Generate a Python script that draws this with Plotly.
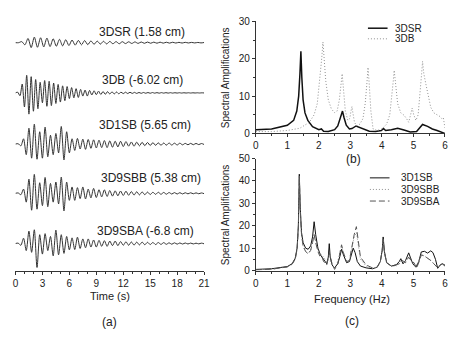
import numpy as np
import plotly.graph_objects as go

W, H = 474, 348
FONT = "Liberation Sans, Arial, sans-serif"

# ---------------- data: (a) displacement time histories (cm), successive half-cycle extremes
wave_names = ["3DSR (1.58 cm)", "3DB (-6.02 cm)", "3D1SB (5.65 cm)", "3D9SBB (5.38 cm)", "3D9SBA (-6.8 cm)"]
wave_dt = [0.35, 0.25, 0.3, 0.3, 0.3]
w_3dsr = [0, 0, 0.3, -0.6, 1.2, -1.4, 1.58, -1.3, 1.4, -1.2, 1.3, -1.1, 1.1, -1.0, 0.95, -0.9, 0.85, -0.8, 0.75, -0.7,
          0.65, -0.6, 0.6, -0.55, 0.5, -0.45, 0.45, -0.4, 0.4, -0.35, 0.35, -0.3, 0.3, -0.3, 0.28, -0.25, 0.25, -0.22,
          0.22, -0.2, 0.2, -0.18, 0.18, -0.16, 0.16, -0.15, 0.15, -0.13, 0.13, -0.12, 0.12, -0.1, 0.1, -0.1, 0.1,
          -0.08, 0.08, -0.07, 0.07, -0.06, 0.05]
w_3db = [0, 0.2, -0.8, 2.5, -4.0, 5.0, -6.02, 4.6, -5.2, 3.8, -4.5, 3.0, -2.8, 3.5, -3.8, 3.3, -3.6, 2.8, -3.0, 2.4,
         -2.6, 2.0, -2.2, 1.8, -1.6, 1.5, -1.4, 1.2, -1.3, 1.0, -0.9, 0.8, -0.9, 0.7, -0.6, 0.6, -0.5, 0.5, -0.45, 0.4,
         -0.4, 0.35, -0.3, 0.3, -0.3, 0.25, -0.25, 0.2, -0.2, 0.2, -0.18, 0.18, -0.15, 0.15, -0.15, 0.12, -0.12, 0.12,
         -0.1, 0.1, -0.1, 0.1, -0.08, 0.08, -0.08, 0.08, -0.07, 0.07, -0.06, 0.06, -0.06, 0.05, -0.05, 0.05, -0.05,
         0.04, -0.04, 0.04, -0.04, 0.03, -0.03, 0.03, -0.03, 0.02, -0.02]
w_3d1sb = [0, 0.1, -0.5, 1.5, -3.0, 4.5, -4.0, 5.65, -4.3, 3.5, -4.0, 4.8, -3.6, 2.5, -3.0, 3.0, -2.5, 5.0, -4.5, 3.5,
           -2.5, 1.5, -1.8, 1.6, -1.4, 1.4, -1.5, 1.3, -1.2, 1.2, -1.1, 1.1, -1.0, 1.0, -1.0, 0.9, -0.9, 0.8, -0.8,
           0.8, -0.7, 0.7, -0.6, 0.6, -0.6, 0.55, -0.5, 0.5, -0.45, 0.45, -0.4, 0.4, -0.35, 0.35, -0.35, 0.3, -0.3,
           0.3, -0.28, 0.25, -0.25, 0.25, -0.22, 0.2, -0.2, 0.2, -0.18, 0.18, -0.15, 0.15, -0.12]
w_3d9sbb = [0, 0.1, -0.4, 1.2, -2.5, 4.0, -4.8, 5.38, -4.5, 3.0, -3.5, 4.5, -3.8, 2.8, -2.5, 3.2, -3.0, 4.6, -5.0, 3.2,
            -2.0, 1.8, -2.0, 1.6, -1.5, 1.8, -1.6, 1.2, -1.3, 1.4, -1.2, 1.0, -1.0, 1.0, -0.9, 0.8, -0.8, 0.7, -0.7,
            0.65, -0.6, 0.6, -0.55, 0.5, -0.5, 0.45, -0.45, 0.4, -0.4, 0.35, -0.35, 0.3, -0.3, 0.3, -0.28, 0.25,
            -0.25, 0.22, -0.2, 0.2, -0.2, 0.18, -0.18, 0.16, -0.15, 0.15, -0.13, 0.12, -0.12, 0.1, -0.1]
w_3d9sba = [0, 0.1, -0.5, 1.5, -2.0, 3.5, -2.5, 3.9, -6.8, 2.5, -3.0, 2.8, -2.0, 2.0, -3.5, 3.8, -3.2, 2.5, -2.8, 2.0,
            -1.8, 1.6, -1.7, 1.8, -1.4, 1.3, -1.2, 1.3, -1.0, 1.0, -1.0, 0.9, -0.8, 0.8, -0.8, 0.7, -0.6, 0.7, -0.6,
            0.55, -0.5, 0.5, -0.5, 0.45, -0.45, 0.4, -0.4, 0.4, -0.35, 0.35, -0.3, 0.3, -0.3, 0.28, -0.25, 0.25,
            -0.22, 0.2, -0.2, 0.2, -0.18, 0.16, -0.15, 0.15, -0.13, 0.12, -0.12, 0.1, -0.1, 0.1, -0.08]
waves = [w_3dsr, w_3db, w_3d1sb, w_3d9sbb, w_3d9sba]

# ---------------- data: (b) spectral amplifications
f_3dsr = [0, 0.5, 1.0, 1.2, 1.3, 1.36, 1.4, 1.43, 1.46, 1.5, 1.56, 1.65, 1.8, 2.0, 2.08, 2.15, 2.3, 2.5, 2.6, 2.67,
          2.72, 2.75, 2.8, 2.87, 2.97, 3.05, 3.18, 3.3, 3.45, 3.6, 3.8, 3.98, 4.05, 4.12, 4.3, 4.5, 4.7, 4.9, 5.1, 5.2,
          5.29, 5.45, 5.6, 5.75, 5.9, 6.0]
a_3dsr = [1.0, 1.2, 2.2, 3.5, 6, 10, 16, 22, 15, 9, 5.5, 3.5, 1.8, 1.0, 1.2, 0.6, 0.5, 1.0, 2.0, 4, 5.5, 6.0, 4.2,
          2.2, 1.2, 1.3, 2.0, 1.6, 1.0, 0.6, 0.5, 0.8, 1.3, 0.8, 1.0, 1.4, 0.9, 0.4, 0.5, 1.5, 2.4, 1.9, 1.2, 0.8,
          0.4, 0.0]
f_3db = [0, 0.5, 1.0, 1.4, 1.7, 1.85, 1.95, 2.03, 2.09, 2.13, 2.17, 2.22, 2.3, 2.4, 2.5, 2.58, 2.65, 2.7, 2.74, 2.78,
         2.84, 2.92, 2.98, 3.02, 3.05, 3.08, 3.13, 3.2, 3.3, 3.4, 3.47, 3.52, 3.56, 3.6, 3.65, 3.72, 3.85, 4.0, 4.15,
         4.25, 4.32, 4.36, 4.39, 4.43, 4.5, 4.6, 4.7, 4.78, 4.85, 4.91, 4.96, 5.01, 5.08, 5.15, 5.22, 5.26, 5.29, 5.33,
         5.4, 5.47, 5.55, 5.65, 5.75, 5.85, 5.9, 5.95, 6.0]
a_3db = [0.5, 0.5, 0.8, 1.4, 3, 5, 8, 14, 20, 24.5, 20, 14, 9, 6.5, 5.6, 6, 9, 13, 16, 12, 6, 3.5, 4, 6, 7.2, 5.5, 3,
         2, 2.5, 4, 8, 13, 17.7, 13, 6, 1.2, 0.8, 1.2, 2.5, 5, 10, 14, 16.9, 13, 8, 5.5, 4.9, 4, 3, 5, 6.8, 5, 3.5, 5,
         11, 16, 19.3, 16, 13, 10, 7, 5.5, 5, 4.5, 4, 4.2, 1.5]

# ---------------- data: (c) spectral amplifications
f_3d1sb = [0, 0.5, 1.0, 1.15, 1.25, 1.31, 1.35, 1.38, 1.41, 1.45, 1.5, 1.58, 1.66, 1.74, 1.8, 1.85, 1.9, 1.97, 2.05,
           2.15, 2.25, 2.3, 2.33, 2.36, 2.42, 2.5, 2.6, 2.67, 2.72, 2.78, 2.88, 2.97, 3.04, 3.09, 3.15, 3.22, 3.32, 3.5,
           3.7, 3.85, 3.95, 4.01, 4.04, 4.08, 4.15, 4.3, 4.45, 4.55, 4.6, 4.67, 4.75, 4.81, 4.85, 4.9, 4.98, 5.08,
           5.17, 5.25, 5.35, 5.45, 5.55, 5.62, 5.7, 5.77, 5.85, 5.92, 6.0]
a_3d1sb = [0.5, 0.8, 1.8, 3.0, 5.5, 10, 20, 43, 28, 17, 12.5, 10, 9.5, 11, 15, 21.8, 16, 10, 7, 5, 3, 6, 12, 6, 2.5,
           1.2, 3, 6.5, 9.5, 7, 3.5, 4, 7.5, 10, 8, 4, 2, 1.2, 0.8, 1.5, 4, 9, 15, 8.5, 3.5, 2, 2.5, 4, 5.3, 3, 4.5, 7,
           7.9, 6, 3, 1.5, 4, 8.3, 8.6, 7.8, 8.8, 8, 5, 1, 2.5, 3, 2]
f_3d9sbb = [0, 0.5, 1.0, 1.15, 1.25, 1.31, 1.35, 1.38, 1.41, 1.45, 1.5, 1.58, 1.66, 1.74, 1.8, 1.85, 1.9, 1.97, 2.05,
            2.15, 2.25, 2.33, 2.42, 2.5, 2.6, 2.67, 2.72, 2.78, 2.88, 2.97, 3.05, 3.12, 3.19, 3.25, 3.32, 3.5, 3.7,
            3.85, 3.95, 4.01, 4.04, 4.08, 4.15, 4.3, 4.45, 4.55, 4.62, 4.7, 4.8, 4.87, 4.95, 5.05, 5.15, 5.25, 5.35,
            5.45, 5.55, 5.65, 5.75, 5.85, 5.92, 6.0]
a_3d9sbb = [0.3, 0.6, 1.6, 2.8, 5.0, 9.5, 19, 42, 27, 16, 11, 8.5, 7.5, 9, 13, 16, 13, 9, 7.5, 6, 4, 5, 2.5, 1, 4, 8,
            11, 8, 4, 4.5, 10, 15, 17, 12, 5, 2, 1, 1.5, 4, 9, 14, 8, 3.5, 2, 2, 3, 4.5, 3.5, 5, 5.5, 4, 2, 3.5, 7,
            6.5, 5.5, 4.5, 3, 1.5, 2.5, 3, 2.5]
f_3d9sba = [0, 0.5, 1.0, 1.15, 1.25, 1.31, 1.35, 1.38, 1.41, 1.45, 1.5, 1.58, 1.66, 1.74, 1.8, 1.85, 1.9, 1.97, 2.03,
            2.08, 2.15, 2.25, 2.33, 2.42, 2.5, 2.6, 2.67, 2.72, 2.78, 2.88, 2.97, 3.05, 3.12, 3.19, 3.25, 3.32, 3.5,
            3.7, 3.85, 3.95, 4.01, 4.04, 4.08, 4.15, 4.3, 4.45, 4.55, 4.65, 4.75, 4.85, 4.95, 5.02, 5.1, 5.18, 5.25,
            5.35, 5.45, 5.55, 5.65, 5.75, 5.85, 5.92, 6.0]
a_3d9sba = [0.3, 0.6, 1.6, 2.8, 5.0, 9.5, 19, 42, 27, 16, 11, 8.5, 7.5, 9, 12.5, 16, 12.5, 8.5, 6.5, 7, 4, 2.5, 8, 3,
            0.5, 3, 8, 11.5, 8, 4, 4.5, 11, 16, 19.6, 14, 6, 2.5, 1.2, 1.5, 4, 9, 14, 8, 3.5, 2, 2.5, 3, 4.5, 3.5, 6,
            4, 3.5, 1, 4, 7, 6.5, 5.5, 4.5, 3, 1.5, 2.5, 3, 2.5]

time_ticks = [0, 3, 6, 9, 12, 15, 18, 21]
freq_ticks = [0, 1, 2, 3, 4, 5, 6]


# ---------------- layout helpers (pixel -> paper)
def px(x):
    return x / W


def py(y):
    return 1 - y / H


DOT = "1px,2px"
DASH = "6px,3px"

fig = go.Figure()

# (a) waveforms, each on its own hidden y axis
baselines = [38, 90, 143, 194, 246]
half = 28
amp_range = 7.67
for i, (vals, dt) in enumerate(zip(waves, wave_dt)):
    t = np.arange(len(vals)) * dt
    yname = "y" if i == 0 else f"y{i + 1}"
    fig.add_trace(go.Scatter(x=t, y=vals, mode="lines", xaxis="x", yaxis=yname,
                             line=dict(color="#333333", width=1, shape="spline", smoothing=0.8),
                             showlegend=False, hoverinfo="skip"))
    key = "yaxis" if i == 0 else f"yaxis{i + 1}"
    fig.layout[key] = dict(domain=[py(baselines[i] + half), py(baselines[i] - half)],
                           range=[-amp_range, amp_range], visible=False, anchor="x", fixedrange=True)

# (b)
fig.add_trace(go.Scatter(x=f_3dsr, y=a_3dsr, mode="lines", xaxis="x2", yaxis="y6",
                         line=dict(color="#111111", width=1.5), showlegend=False))
fig.add_trace(go.Scatter(x=f_3db, y=a_3db, mode="lines", xaxis="x2", yaxis="y6",
                         line=dict(color="#909090", width=1, dash=DOT), showlegend=False))
# (c)
fig.add_trace(go.Scatter(x=f_3d1sb, y=a_3d1sb, mode="lines", xaxis="x3", yaxis="y7",
                         line=dict(color="#111111", width=1), showlegend=False))
fig.add_trace(go.Scatter(x=f_3d9sbb, y=a_3d9sbb, mode="lines", xaxis="x3", yaxis="y7",
                         line=dict(color="#909090", width=1, dash=DOT), showlegend=False))
fig.add_trace(go.Scatter(x=f_3d9sba, y=a_3d9sba, mode="lines", xaxis="x3", yaxis="y7",
                         line=dict(color="#555555", width=1, dash=DASH), showlegend=False))

axis_common = dict(showline=True, linecolor="#333", linewidth=1, ticks="outside", ticklen=3,
                   tickcolor="#333", tickwidth=1, showgrid=False, zeroline=False,
                   tickfont=dict(family=FONT, size=10, color="#222"), fixedrange=True)
minor_x = dict(ticks="outside", ticklen=2, tickcolor="#333", showgrid=False)

fig.update_layout(
    width=W, height=H, margin=dict(l=0, r=0, t=0, b=0),
    paper_bgcolor="white", plot_bgcolor="rgba(0,0,0,0)",
    xaxis=dict(domain=[px(12.7), px(205)], range=[0, 21], anchor="free", position=py(274),
               tickvals=time_ticks, minor=dict(dtick=1, **minor_x), **axis_common),
    xaxis2=dict(domain=[px(257.7), px(450.5)], range=[0, 6], anchor="y6",
                tickvals=freq_ticks, minor=dict(dtick=0.5, **minor_x), **axis_common),
    yaxis6=dict(domain=[py(132), py(16)], range=[0, 30], anchor="x2", dtick=10,
                minor=dict(dtick=5, **minor_x), **axis_common),
    xaxis3=dict(domain=[px(257.7), px(450.5)], range=[0, 6], anchor="y7",
                tickvals=freq_ticks, minor=dict(dtick=0.5, **minor_x), **axis_common),
    yaxis7=dict(domain=[py(274), py(158)], range=[0, 50], anchor="x3", dtick=10,
                minor=dict(dtick=5, **minor_x), **axis_common),
)

ann = []
label_pos = [(142, 27), (142, 77), (145, 123), (151, 178), (145, 233)]
for name, (lx, ly) in zip(wave_names, label_pos):
    ann.append(dict(x=px(lx), y=py(ly), text=name, font=dict(size=12)))
ann += [
    dict(x=px(109), y=py(300), text="Time (s)", font=dict(size=11)),
    dict(x=px(109), y=py(327), text="(a)", font=dict(size=12)),
    dict(x=px(357), y=py(158), text="(b)", font=dict(size=12)),
    dict(x=px(356), y=py(303), text="Frequency (Hz)", font=dict(size=11)),
    dict(x=px(356), y=py(326), text="(c)", font=dict(size=12)),
    dict(x=px(227), y=py(74), text="Spectral Amplifications", textangle=-90, font=dict(size=10)),
    dict(x=px(227), y=py(216), text="Spectral Amplifications", textangle=-90, font=dict(size=10)),
]
# legends
leg_b = [("3DSR", 23, dict(color="#111111", width=1.5)), ("3DB", 34, dict(color="#909090", width=1, dash=DOT))]
leg_c = [("3D1SB", 178, dict(color="#111111", width=1)), ("3D9SBB", 190, dict(color="#909090", width=1, dash=DOT)),
         ("3D9SBA", 202, dict(color="#555555", width=1, dash=DASH))]
shapes = []
for items, x0, x1, xt in [(leg_b, 372, 392, 398), (leg_c, 374, 394, 404)]:
    for name, yy, ln in items:
        shapes.append(dict(type="line", xref="paper", yref="paper", x0=px(x0), x1=px(x1), y0=py(yy), y1=py(yy),
                           line=ln))
        ann.append(dict(x=px(xt), y=py(yy), text=name, xanchor="left", font=dict(size=10)))

for a in ann:
    a.setdefault("xanchor", "center")
    a.update(xref="paper", yref="paper", showarrow=False, yanchor="middle")
    a["font"] = dict(family=FONT, color="#222", **a["font"])
fig.update_layout(annotations=ann, shapes=shapes)

fig.write_html("out.html", config={"displayModeBar": False})
